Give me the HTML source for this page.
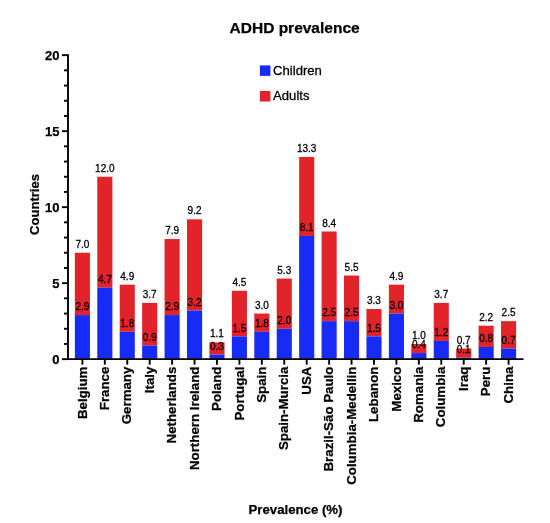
<!DOCTYPE html>
<html><head><meta charset="utf-8"><title>ADHD prevalence</title>
<style>
html,body{margin:0;padding:0;background:#fff;}
body{width:550px;height:523px;overflow:hidden;}
svg{display:block;font-family:"Liberation Sans",Arial,sans-serif;}
.b{font-weight:bold;}
text{stroke:#000;stroke-width:0.27px;}
text.b{stroke-width:0.25px;}
</style></head><body>
<svg width="550" height="523" viewBox="0 0 550 523">
<rect width="550" height="523" fill="#fff"/>

<text x="294.6" y="32.6" text-anchor="middle" class="b" font-size="15.5">ADHD prevalence</text>
<rect x="259.9" y="65.4" width="10.5" height="10.5" fill="#182bf6"/>
<text x="273.1" y="75.0" font-size="13.1">Children</text>
<rect x="259.9" y="91.0" width="10.5" height="10.5" fill="#e2242a"/>
<text x="273.1" y="100.3" font-size="13.1">Adults</text>
<rect x="74.85" y="252.75" width="15.1" height="62.32" fill="#e2242a"/>
<rect x="74.85" y="315.07" width="15.1" height="43.78" fill="#182bf6"/>
<text x="82.40" y="247.80" text-anchor="middle" font-size="10.0">7.0</text>
<text x="82.40" y="310.27" text-anchor="middle" font-size="10.0">2.9</text>
<text transform="translate(86.60,366.6) rotate(-90)" text-anchor="end" class="b" font-size="13.3">Belgium</text>
<rect x="97.28" y="176.75" width="15.1" height="110.96" fill="#e2242a"/>
<rect x="97.28" y="287.71" width="15.1" height="71.14" fill="#182bf6"/>
<text x="104.83" y="171.80" text-anchor="middle" font-size="10.0">12.0</text>
<text x="104.83" y="282.91" text-anchor="middle" font-size="10.0">4.7</text>
<text transform="translate(109.03,366.6) rotate(-90)" text-anchor="end" class="b" font-size="13.3">France</text>
<rect x="119.71" y="284.67" width="15.1" height="47.12" fill="#e2242a"/>
<rect x="119.71" y="331.79" width="15.1" height="27.06" fill="#182bf6"/>
<text x="127.26" y="279.72" text-anchor="middle" font-size="10.0">4.9</text>
<text x="127.26" y="326.99" text-anchor="middle" font-size="10.0">1.8</text>
<text transform="translate(131.46,366.6) rotate(-90)" text-anchor="end" class="b" font-size="13.3">Germany</text>
<rect x="142.14" y="302.91" width="15.1" height="42.56" fill="#e2242a"/>
<rect x="142.14" y="345.47" width="15.1" height="13.38" fill="#182bf6"/>
<text x="149.69" y="297.96" text-anchor="middle" font-size="10.0">3.7</text>
<text x="149.69" y="340.67" text-anchor="middle" font-size="10.0">0.9</text>
<text transform="translate(153.89,366.6) rotate(-90)" text-anchor="end" class="b" font-size="13.3">Italy</text>
<rect x="164.57" y="239.07" width="15.1" height="76.00" fill="#e2242a"/>
<rect x="164.57" y="315.07" width="15.1" height="43.78" fill="#182bf6"/>
<text x="172.12" y="234.12" text-anchor="middle" font-size="10.0">7.9</text>
<text x="172.12" y="310.27" text-anchor="middle" font-size="10.0">2.9</text>
<text transform="translate(176.32,366.6) rotate(-90)" text-anchor="end" class="b" font-size="13.3">Netherlands</text>
<rect x="187.00" y="219.31" width="15.1" height="91.20" fill="#e2242a"/>
<rect x="187.00" y="310.51" width="15.1" height="48.34" fill="#182bf6"/>
<text x="194.55" y="214.36" text-anchor="middle" font-size="10.0">9.2</text>
<text x="194.55" y="305.71" text-anchor="middle" font-size="10.0">3.2</text>
<text transform="translate(198.75,366.6) rotate(-90)" text-anchor="end" class="b" font-size="13.3">Northern Ireland</text>
<rect x="209.43" y="342.43" width="15.1" height="12.16" fill="#e2242a"/>
<rect x="209.43" y="354.59" width="15.1" height="4.26" fill="#182bf6"/>
<text x="216.98" y="337.48" text-anchor="middle" font-size="10.0">1.1</text>
<text x="216.98" y="349.79" text-anchor="middle" font-size="10.0">0.3</text>
<text transform="translate(221.18,366.6) rotate(-90)" text-anchor="end" class="b" font-size="13.3">Poland</text>
<rect x="231.86" y="290.75" width="15.1" height="45.60" fill="#e2242a"/>
<rect x="231.86" y="336.35" width="15.1" height="22.50" fill="#182bf6"/>
<text x="239.41" y="285.80" text-anchor="middle" font-size="10.0">4.5</text>
<text x="239.41" y="331.55" text-anchor="middle" font-size="10.0">1.5</text>
<text transform="translate(243.61,366.6) rotate(-90)" text-anchor="end" class="b" font-size="13.3">Portugal</text>
<rect x="254.29" y="313.55" width="15.1" height="18.24" fill="#e2242a"/>
<rect x="254.29" y="331.79" width="15.1" height="27.06" fill="#182bf6"/>
<text x="261.84" y="308.60" text-anchor="middle" font-size="10.0">3.0</text>
<text x="261.84" y="326.99" text-anchor="middle" font-size="10.0">1.8</text>
<text transform="translate(266.04,366.6) rotate(-90)" text-anchor="end" class="b" font-size="13.3">Spain</text>
<rect x="276.72" y="278.59" width="15.1" height="50.16" fill="#e2242a"/>
<rect x="276.72" y="328.75" width="15.1" height="30.10" fill="#182bf6"/>
<text x="284.27" y="273.64" text-anchor="middle" font-size="10.0">5.3</text>
<text x="284.27" y="323.95" text-anchor="middle" font-size="10.0">2.0</text>
<text transform="translate(288.47,366.6) rotate(-90)" text-anchor="end" class="b" font-size="13.3">Spain-Murcia</text>
<rect x="299.15" y="156.99" width="15.1" height="79.04" fill="#e2242a"/>
<rect x="299.15" y="236.03" width="15.1" height="122.82" fill="#182bf6"/>
<text x="306.70" y="152.04" text-anchor="middle" font-size="10.0">13.3</text>
<text x="306.70" y="231.23" text-anchor="middle" font-size="10.0">8.1</text>
<text transform="translate(310.90,366.6) rotate(-90)" text-anchor="end" class="b" font-size="13.3">USA</text>
<rect x="321.58" y="231.47" width="15.1" height="89.68" fill="#e2242a"/>
<rect x="321.58" y="321.15" width="15.1" height="37.70" fill="#182bf6"/>
<text x="329.13" y="226.52" text-anchor="middle" font-size="10.0">8.4</text>
<text x="329.13" y="316.35" text-anchor="middle" font-size="10.0">2.5</text>
<text transform="translate(333.33,366.6) rotate(-90)" text-anchor="end" class="b" font-size="13.3">Brazil-São Paulo</text>
<rect x="344.01" y="275.55" width="15.1" height="45.60" fill="#e2242a"/>
<rect x="344.01" y="321.15" width="15.1" height="37.70" fill="#182bf6"/>
<text x="351.56" y="270.60" text-anchor="middle" font-size="10.0">5.5</text>
<text x="351.56" y="316.35" text-anchor="middle" font-size="10.0">2.5</text>
<text transform="translate(355.76,366.6) rotate(-90)" text-anchor="end" class="b" font-size="13.3">Columbia-Medellin</text>
<rect x="366.44" y="308.99" width="15.1" height="27.36" fill="#e2242a"/>
<rect x="366.44" y="336.35" width="15.1" height="22.50" fill="#182bf6"/>
<text x="373.99" y="304.04" text-anchor="middle" font-size="10.0">3.3</text>
<text x="373.99" y="331.55" text-anchor="middle" font-size="10.0">1.5</text>
<text transform="translate(378.19,366.6) rotate(-90)" text-anchor="end" class="b" font-size="13.3">Lebanon</text>
<rect x="388.87" y="284.67" width="15.1" height="28.88" fill="#e2242a"/>
<rect x="388.87" y="313.55" width="15.1" height="45.30" fill="#182bf6"/>
<text x="396.42" y="279.72" text-anchor="middle" font-size="10.0">4.9</text>
<text x="396.42" y="308.75" text-anchor="middle" font-size="10.0">3.0</text>
<text transform="translate(400.62,366.6) rotate(-90)" text-anchor="end" class="b" font-size="13.3">Mexico</text>
<rect x="411.30" y="343.95" width="15.1" height="9.12" fill="#e2242a"/>
<rect x="411.30" y="353.07" width="15.1" height="5.78" fill="#182bf6"/>
<text x="418.85" y="339.00" text-anchor="middle" font-size="10.0">1.0</text>
<text x="418.85" y="348.27" text-anchor="middle" font-size="10.0">0.4</text>
<text transform="translate(423.05,366.6) rotate(-90)" text-anchor="end" class="b" font-size="13.3">Romania</text>
<rect x="433.73" y="302.91" width="15.1" height="38.00" fill="#e2242a"/>
<rect x="433.73" y="340.91" width="15.1" height="17.94" fill="#182bf6"/>
<text x="441.28" y="297.96" text-anchor="middle" font-size="10.0">3.7</text>
<text x="441.28" y="336.11" text-anchor="middle" font-size="10.0">1.2</text>
<text transform="translate(445.48,366.6) rotate(-90)" text-anchor="end" class="b" font-size="13.3">Columbia</text>
<rect x="456.16" y="348.51" width="15.1" height="9.12" fill="#e2242a"/>
<rect x="456.16" y="357.63" width="15.1" height="1.22" fill="#182bf6"/>
<text x="463.71" y="343.56" text-anchor="middle" font-size="10.0">0.7</text>
<text x="463.71" y="352.83" text-anchor="middle" font-size="10.0">0.1</text>
<text transform="translate(467.91,366.6) rotate(-90)" text-anchor="end" class="b" font-size="13.3">Iraq</text>
<rect x="478.59" y="325.71" width="15.1" height="21.28" fill="#e2242a"/>
<rect x="478.59" y="346.99" width="15.1" height="11.86" fill="#182bf6"/>
<text x="486.14" y="320.76" text-anchor="middle" font-size="10.0">2.2</text>
<text x="486.14" y="342.19" text-anchor="middle" font-size="10.0">0.8</text>
<text transform="translate(490.34,366.6) rotate(-90)" text-anchor="end" class="b" font-size="13.3">Peru</text>
<rect x="501.02" y="321.15" width="15.1" height="27.36" fill="#e2242a"/>
<rect x="501.02" y="348.51" width="15.1" height="10.34" fill="#182bf6"/>
<text x="508.57" y="316.20" text-anchor="middle" font-size="10.0">2.5</text>
<text x="508.57" y="343.71" text-anchor="middle" font-size="10.0">0.7</text>
<text transform="translate(512.77,366.6) rotate(-90)" text-anchor="end" class="b" font-size="13.3">China</text>
<g stroke="#000" stroke-width="1.9" fill="none">
<line x1="68.0" y1="54.20" x2="68.0" y2="360.10"/>
<line x1="67.05" y1="359.15" x2="523.5" y2="359.15"/>
<line x1="62.0" y1="359.15" x2="68.0" y2="359.15"/>
<line x1="64.0" y1="343.95" x2="68.0" y2="343.95"/>
<line x1="64.0" y1="328.75" x2="68.0" y2="328.75"/>
<line x1="64.0" y1="313.55" x2="68.0" y2="313.55"/>
<line x1="64.0" y1="298.35" x2="68.0" y2="298.35"/>
<line x1="62.0" y1="283.15" x2="68.0" y2="283.15"/>
<line x1="64.0" y1="267.95" x2="68.0" y2="267.95"/>
<line x1="64.0" y1="252.75" x2="68.0" y2="252.75"/>
<line x1="64.0" y1="237.55" x2="68.0" y2="237.55"/>
<line x1="64.0" y1="222.35" x2="68.0" y2="222.35"/>
<line x1="62.0" y1="207.15" x2="68.0" y2="207.15"/>
<line x1="64.0" y1="191.95" x2="68.0" y2="191.95"/>
<line x1="64.0" y1="176.75" x2="68.0" y2="176.75"/>
<line x1="64.0" y1="161.55" x2="68.0" y2="161.55"/>
<line x1="64.0" y1="146.35" x2="68.0" y2="146.35"/>
<line x1="62.0" y1="131.15" x2="68.0" y2="131.15"/>
<line x1="64.0" y1="115.95" x2="68.0" y2="115.95"/>
<line x1="64.0" y1="100.75" x2="68.0" y2="100.75"/>
<line x1="64.0" y1="85.55" x2="68.0" y2="85.55"/>
<line x1="64.0" y1="70.35" x2="68.0" y2="70.35"/>
<line x1="62.0" y1="55.15" x2="68.0" y2="55.15"/>
<line x1="82.40" y1="359.15" x2="82.40" y2="364.65"/>
<line x1="104.83" y1="359.15" x2="104.83" y2="364.65"/>
<line x1="127.26" y1="359.15" x2="127.26" y2="364.65"/>
<line x1="149.69" y1="359.15" x2="149.69" y2="364.65"/>
<line x1="172.12" y1="359.15" x2="172.12" y2="364.65"/>
<line x1="194.55" y1="359.15" x2="194.55" y2="364.65"/>
<line x1="216.98" y1="359.15" x2="216.98" y2="364.65"/>
<line x1="239.41" y1="359.15" x2="239.41" y2="364.65"/>
<line x1="261.84" y1="359.15" x2="261.84" y2="364.65"/>
<line x1="284.27" y1="359.15" x2="284.27" y2="364.65"/>
<line x1="306.70" y1="359.15" x2="306.70" y2="364.65"/>
<line x1="329.13" y1="359.15" x2="329.13" y2="364.65"/>
<line x1="351.56" y1="359.15" x2="351.56" y2="364.65"/>
<line x1="373.99" y1="359.15" x2="373.99" y2="364.65"/>
<line x1="396.42" y1="359.15" x2="396.42" y2="364.65"/>
<line x1="418.85" y1="359.15" x2="418.85" y2="364.65"/>
<line x1="441.28" y1="359.15" x2="441.28" y2="364.65"/>
<line x1="463.71" y1="359.15" x2="463.71" y2="364.65"/>
<line x1="486.14" y1="359.15" x2="486.14" y2="364.65"/>
<line x1="508.57" y1="359.15" x2="508.57" y2="364.65"/>
</g>
<text x="59.4" y="363.55" text-anchor="end" class="b" font-size="13.0">0</text>
<text x="59.4" y="287.55" text-anchor="end" class="b" font-size="13.0">5</text>
<text x="59.4" y="211.55" text-anchor="end" class="b" font-size="13.0">10</text>
<text x="59.4" y="135.55" text-anchor="end" class="b" font-size="13.0">15</text>
<text x="59.4" y="59.55" text-anchor="end" class="b" font-size="13.0">20</text>
<text transform="translate(39.2,204.5) rotate(-90)" text-anchor="middle" class="b" font-size="13.1">Countries</text>
<text x="295.5" y="514" text-anchor="middle" class="b" font-size="13.2">Prevalence (%)</text>
</svg></body></html>
